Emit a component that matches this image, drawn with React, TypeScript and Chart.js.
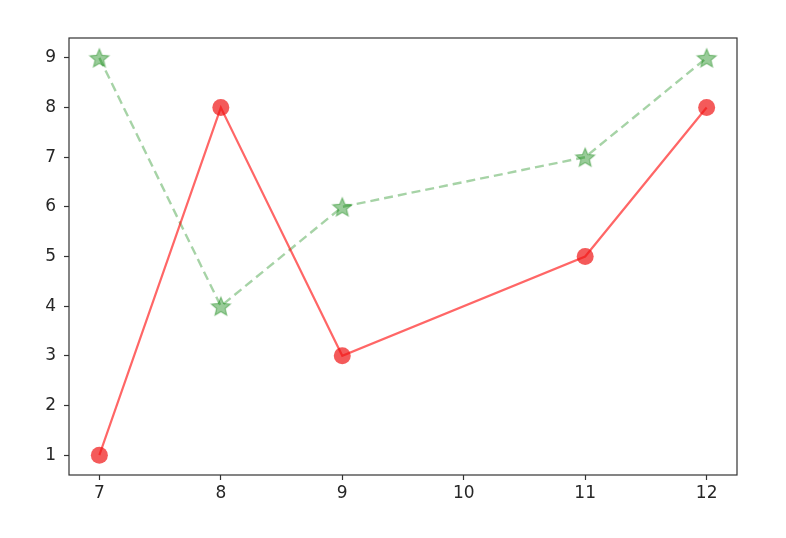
import React, { useEffect, useRef } from "react";
import { Chart, registerables } from "chart.js";

Chart.register(...registerables);

const xValues = [7, 8, 9, 11, 12];
const redValues = [1, 8, 3, 5, 8];
const greenValues = [9, 4, 6, 7, 9];
const xTicks = [7, 8, 9, 10, 11, 12];
const yTicks = [1, 2, 3, 4, 5, 6, 7, 8, 9];

function makeStar(outer: number, fill: string): HTMLCanvasElement {
  const c = document.createElement("canvas");
  const s = Math.ceil(outer * 2 + 4);
  c.width = s;
  c.height = s;
  const ctx = c.getContext("2d")!;
  const cx = s / 2;
  const cy = s / 2 + outer * 0.1;
  const inner = outer * 0.45;
  ctx.beginPath();
  for (let i = 0; i < 10; i++) {
    const r = i % 2 === 0 ? outer : inner;
    const a = -Math.PI / 2 + (i * Math.PI) / 5;
    const px = cx + r * Math.cos(a);
    const py = cy + r * Math.sin(a);
    if (i === 0) ctx.moveTo(px, py);
    else ctx.lineTo(px, py);
  }
  ctx.closePath();
  ctx.fillStyle = fill;
  ctx.fill();
  ctx.strokeStyle = fill;
  ctx.lineWidth = 1.2;
  ctx.stroke();
  return c;
}

const framePlugin = {
  id: "frame",
  afterDatasetsDraw(chart: any) {
    const { ctx, chartArea } = chart;
    ctx.save();
    ctx.strokeStyle = "#333";
    ctx.lineWidth = 1.2;
    ctx.strokeRect(chartArea.left, chartArea.top, chartArea.right - chartArea.left, chartArea.bottom - chartArea.top);
    ctx.restore();
  },
};

export default function App() {
  const ref = useRef<HTMLCanvasElement>(null);
  useEffect(() => {
    document.body.style.margin = "0";
    const star = makeStar(10, "rgba(0,128,0,0.4)");
    const tickColor = (list: number[]) => (c: any) =>
      c.tick && list.includes(c.tick.value) ? "#333" : "rgba(0,0,0,0)";
    const chart = new Chart(ref.current!, {
      type: "line",
      data: {
        datasets: [
          {
            data: xValues.map((x, i) => ({ x, y: redValues[i] })),
            borderColor: "rgba(255,0,0,0.6)",
            backgroundColor: "rgba(240,20,20,0.7)",
            borderWidth: 2.2,
            pointRadius: 8.5,
            pointBorderWidth: 0,
            pointStyle: "circle",
            tension: 0,
          },
          {
            data: xValues.map((x, i) => ({ x, y: greenValues[i] })),
            borderColor: "rgba(0,128,0,0.35)",
            backgroundColor: "rgba(0,128,0,0.4)",
            borderWidth: 2.4,
            borderDash: [9, 5],
            pointStyle: star as any,
            pointRadius: 10,
            tension: 0,
          },
        ],
      },
      options: {
        animation: false,
        responsive: false,
        devicePixelRatio: 1,
        layout: { padding: { top: 38, right: 49, left: 0, bottom: 0 } },
        plugins: { legend: { display: false }, tooltip: { enabled: false } },
        scales: {
          x: {
            type: "linear",
            min: 6.75,
            max: 12.25,
            afterBuildTicks: (s: any) => {
              s.ticks = xTicks.map((v) => ({ value: v }));
            },
            afterFit: (s: any) => {
              s.height = 63;
            },
            grid: { drawOnChartArea: false, drawTicks: true, tickLength: 5, color: tickColor(xTicks) as any, tickWidth: 1.2 },
            border: { display: false },
            ticks: {
              color: "#262626",
              padding: 3,
              font: { family: "DejaVu Sans", size: 17 },
              maxRotation: 0,
              callback: (v: any) => String(v),
            },
          },
          y: {
            type: "linear",
            min: 0.6,
            max: 9.4,
            afterBuildTicks: (s: any) => {
              s.ticks = yTicks.map((v) => ({ value: v }));
            },
            afterFit: (s: any) => {
              s.width = 69;
            },
            grid: { drawOnChartArea: false, drawTicks: true, tickLength: 5, color: tickColor(yTicks) as any, tickWidth: 1.2 },
            border: { display: false },
            ticks: {
              color: "#262626",
              padding: 8,
              font: { family: "DejaVu Sans", size: 17 },
              callback: (v: any) => String(v),
            },
          },
        },
      },
      plugins: [framePlugin],
    });
    return () => chart.destroy();
  }, []);
  return <canvas ref={ref} width={786} height={538} style={{ display: "block" }} />;
}
